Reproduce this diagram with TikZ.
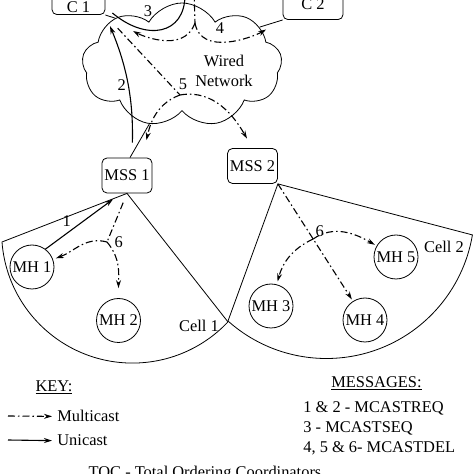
\documentclass[tikz,border=0pt]{standalone}
\usepackage{fontspec}
\setmainfont{Liberation Serif}
\usetikzlibrary{arrows.meta, shapes.symbols}

\begin{document}
\begin{tikzpicture}[x=1pt, y=1pt, >={Stealth[length=8pt, width=5pt]},
                    line width=0.8pt, font=\fontsize{16.4}{20}\selectfont]
\tikzstyle{box}=[rectangle, draw, rounded corners=5pt, minimum width=50pt,
                    minimum height=35pt, inner sep=1pt]
\tikzstyle{mh}=[circle, draw, minimum size=44pt, inner sep=0pt]
\tikzstyle{mcast}=[->, line width=1.1pt, dash pattern=on 7pt off 3pt on 1.5pt off 3pt]
\tikzstyle{ucast}=[->, line width=1.1pt]
\tikzstyle{lbl}=[inner sep=1pt]
\tikzstyle{txt}=[inner sep=0pt, anchor=base west]
  \useasboundingbox (0,0) rectangle (474,474);
  \clip (0,0) rectangle (474,474);

  % wired network and coordinators
  \node[cloud, draw, cloud puffs=9, cloud puff arc=120, aspect=1.6,
        minimum width=200pt, minimum height=124pt] (Net) at (182,409) {};
  \node[align=center] (NetL) at (224,403) {Wired\\Network};
  \node[box, minimum height=0pt, text height=20pt, text depth=0pt, inner ysep=2pt,
        minimum width=53pt, anchor=south] (C1) at (78.5,459) {C 1};
  \node[box, minimum height=0pt, text height=20pt, text depth=0pt, inner ysep=10pt,
        minimum width=60pt, anchor=south] (C2) at (313,454) {C 2};
  \coordinate (TOC) at (190,484);

  % support stations and hosts
  \node[box] (MSS1) at (127,298.5) {MSS 1};
  \node[box] (MSS2) [right of=MSS1, node distance=125.5pt, yshift=9.5pt] {MSS 2};
  \node[mh] (MH1) [left of=MSS1, node distance=95pt, yshift=-91.5pt] {MH 1};
  \node[mh] (MH2) [below of=MSS1, node distance=145pt, xshift=-8.5pt] {MH 2};
  \node[mh] (MH3) [below of=MSS2, node distance=140pt, xshift=18.5pt] {MH 3};
  \node[mh] (MH4) [right of=MH3, node distance=94pt, yshift=-14pt] {MH 4};
  \node[mh] (MH5) [above of=MH4, node distance=63pt, xshift=31pt] {MH 5};

  % cells
  \draw (MSS1.south) -- (2,232) arc[start angle=184.35, end angle=316.7, radius=131] -- cycle;
  \draw (MSS2.south east) -- (228,153) arc[start angle=228.3, end angle=350.5, radius=148] -- cycle;
  \node (Cell1) at (199,148) {Cell 1};
  \node (Cell2) at (444,227) {Cell 2};

  % wired links
  \draw (C1.south east) -- (Net.145);
  \draw (C2.south west) -- (Net.26);
  \draw ([xshift=3pt]MSS1.north) -- (Net.241);

  % messages
  \coordinate (b4) at (195,451);
  \coordinate (b5) at (180,379);
  \coordinate (b6) at (107,232);
  \path[ucast] (MH1.53) edge [shorten >=10pt] node [lbl, pos=0.28, above=5pt] {1} ([xshift=-6pt]MSS1.south);
  \path[ucast] ([xshift=5pt]MSS1.north) edge [bend right=12, shorten <=15pt, shorten >=12pt]
               node [lbl, pos=0.5, left] {2} (C1.south east);
  \path[ucast] ([xshift=7pt, yshift=2pt]C1.south east) edge [out=-40, in=-90, looseness=1.5]
               node [lbl, pos=0.35, above=12pt] {3} ([xshift=-5pt]TOC);
  \draw[mcast, -] ([xshift=4pt]TOC) -- (b4);
  \path[mcast] (b4) edge [out=-110, in=-30, shorten >=32pt] (C1.south east)
               (b4) edge [out=-80, in=-150, shorten >=19pt] node [lbl, pos=0.4, above=6pt] {4} (C2.south west);
  \path[mcast, -] (C1.south east) edge [shorten <=18pt] node [lbl, at end, above=4pt, xshift=3pt] {5} (b5);
  \path[mcast] (b5) edge [out=200, in=76, shorten >=18pt] ([xshift=15pt]MSS1.north)
               (b5) edge [out=10, in=120, shorten >=11pt] (MSS2.north);
  \path[mcast, -] (MSS1.south) edge [shorten <=10pt] node [lbl, at end, right=6pt] {6} (b6);
  \path[mcast] (b6) edge [out=165, in=20, shorten >=3pt] (MH1)
               (b6) edge [out=-50, in=90, shorten >=10pt] (MH2);
  \path[mcast] (MSS2.south east) edge [shorten >=2pt] node [lbl, pos=0.47, above right=1pt] {6}
               coordinate [pos=0.47] (b7) (MH4);
  \path[mcast] (b7) edge [out=205, in=75, shorten >=3pt] (MH3)
               (b7) edge [out=35, in=150, shorten >=2pt] (MH5);

  % key
  \node[txt, anchor=base] (Key) at (54,82) {\underline{KEY:}};
  \node[txt] (Mul) at (57,52) {Multicast};
  \node[txt] (Uni) at (57,28) {Unicast};
  \coordinate (MulS) at (8,58);
  \coordinate (UniS) at (8,34);
  \draw[mcast] (MulS) -- ([xshift=-5pt]Mul.west);
  \draw[ucast] (UniS) -- ([xshift=-5pt]Uni.west);
  \node[txt, anchor=base] (Msg) at (376.5,86) {\underline{MESSAGES:}};
  \node[txt] (M1) at (303,61) {1 \& 2 - MCASTREQ};
  \node[txt] (M2) at (303,41) {3 - MCASTSEQ};
  \node[txt] (M3) at (303,21) {4, 5 \& 6- MCASTDEL};
  \node[txt, anchor=base] (TOCkey) at (205,-4) {TOC - Total Ordering Coordinators};
\end{tikzpicture}
\end{document}
